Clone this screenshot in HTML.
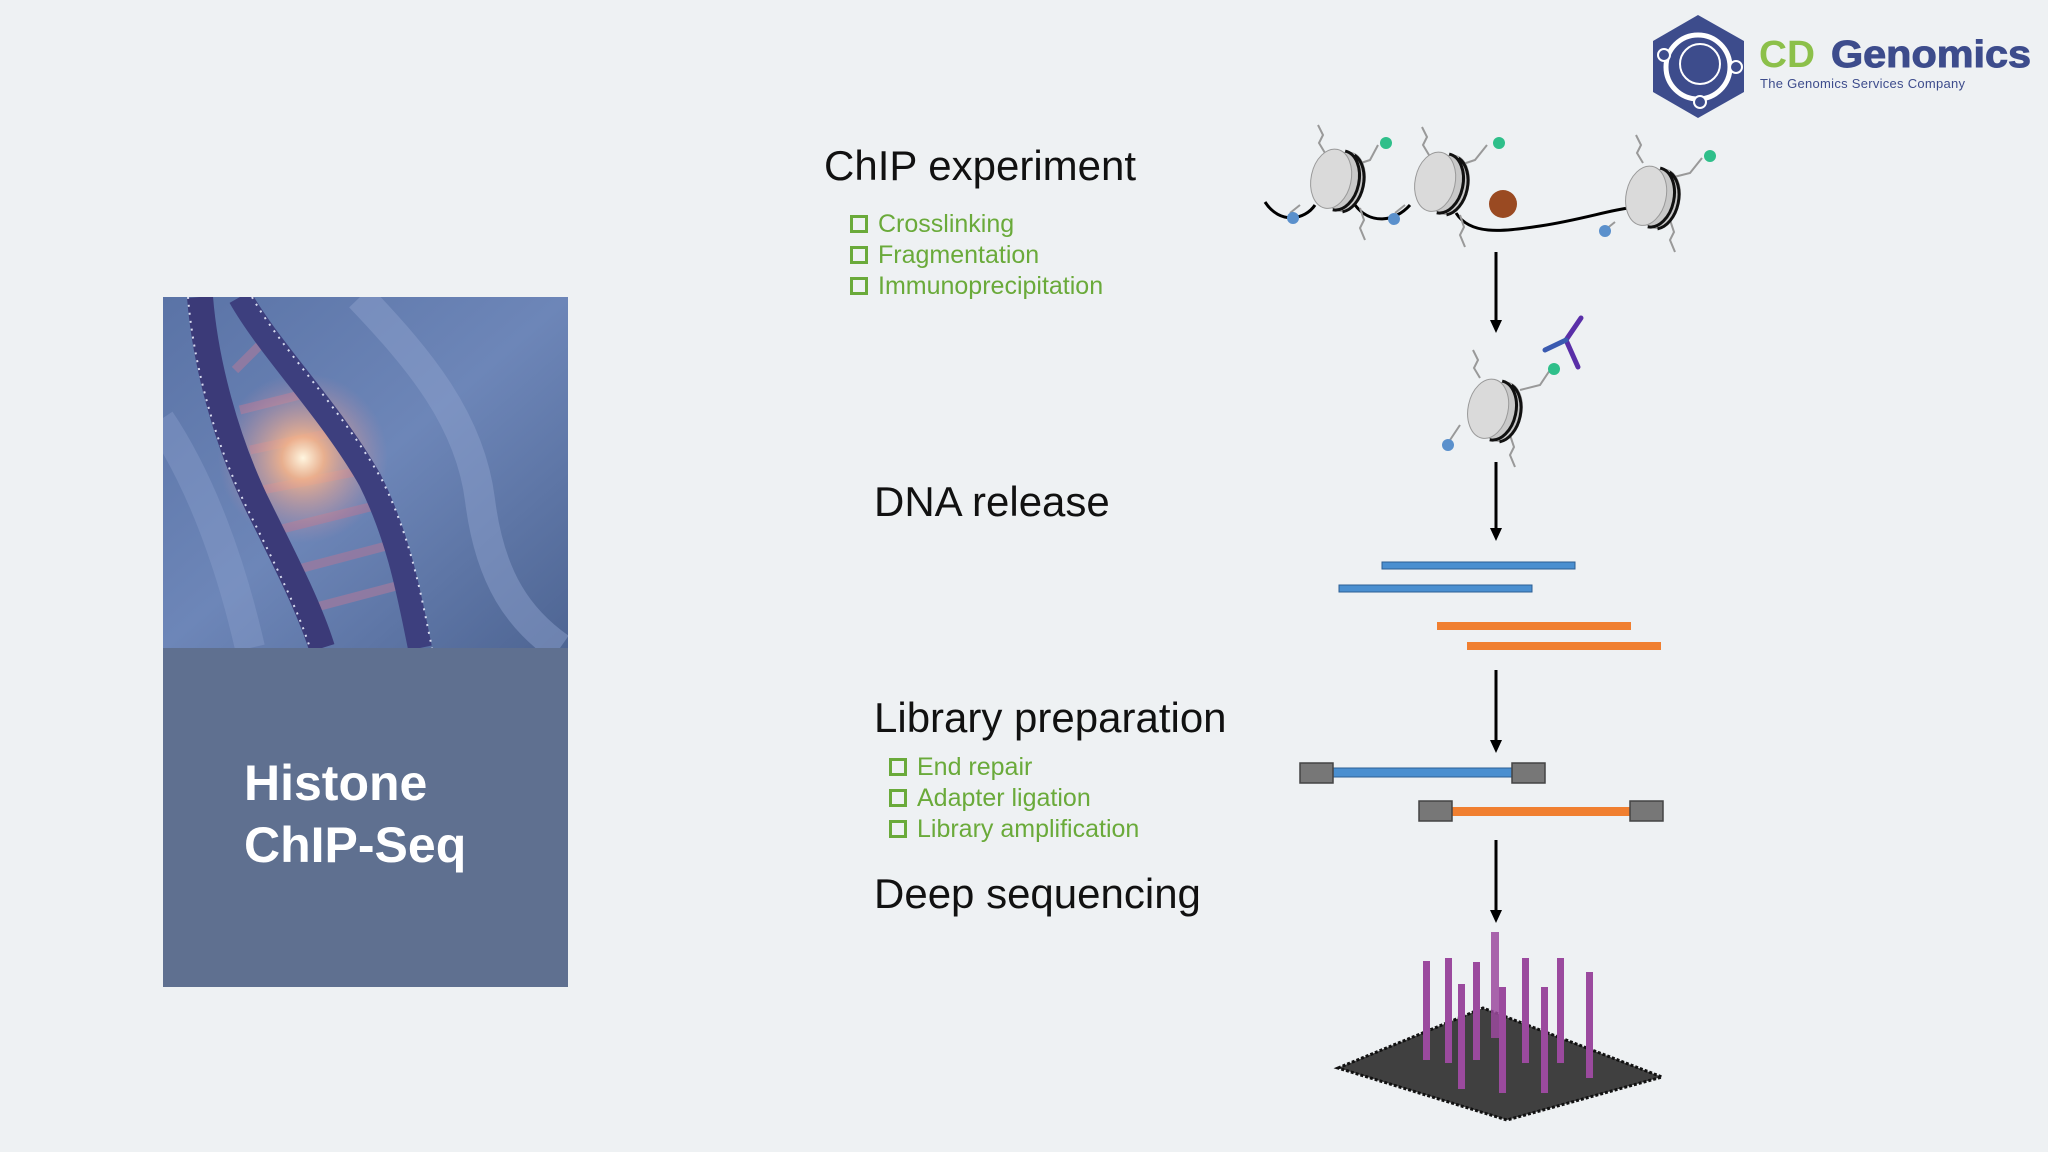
<!DOCTYPE html>
<html><head><meta charset="utf-8"><style>
html,body{margin:0;padding:0}
body{width:2048px;height:1152px;background:#eef1f3;position:relative;overflow:hidden;font-family:"Liberation Sans",Arial,sans-serif}
.t{position:absolute;color:#111;white-space:nowrap}
.g{position:absolute;color:#6aaa3a;font-size:25px;white-space:nowrap}
.g:before{content:"";display:inline-block;width:12px;height:12px;border:3px solid #6aaa3a;margin-right:10px;vertical-align:-1px}
</style></head><body>
<svg width="2048" height="1152" style="position:absolute;left:0;top:0">
<defs>
<linearGradient id="bg" x1="0" y1="0" x2="1" y2="1"><stop offset="0" stop-color="#5a73a6"/><stop offset="0.5" stop-color="#6d86b8"/><stop offset="1" stop-color="#4e6593"/></linearGradient>
<radialGradient id="glow" cx="0.5" cy="0.5" r="0.5"><stop offset="0" stop-color="#fff6e0"/><stop offset="0.25" stop-color="#f6b48a" stop-opacity="0.9"/><stop offset="1" stop-color="#c08aa8" stop-opacity="0"/></radialGradient>
<clipPath id="cp"><rect x="163" y="297" width="405" height="351"/></clipPath>
</defs>
<rect x="163" y="297" width="405" height="690" fill="#5f7090"/>
<g clip-path="url(#cp)">
<rect x="163" y="297" width="405" height="351" fill="url(#bg)"/>
<path d="M360,297 C420,360 470,420 480,500 C490,580 520,620 560,648" stroke="#8ba0cc" stroke-width="30" fill="none" opacity="0.5"/>
<path d="M160,420 C200,480 230,560 250,648" stroke="#8ba0cc" stroke-width="30" fill="none" opacity="0.4"/>
<g stroke="#9a7aa0" stroke-width="9" opacity="0.8">
<line x1="235" y1="370" x2="275" y2="330"/><line x1="240" y1="410" x2="320" y2="390"/><line x1="250" y1="450" x2="345" y2="430"/><line x1="262" y1="490" x2="365" y2="470"/><line x1="278" y1="530" x2="378" y2="505"/><line x1="295" y1="570" x2="390" y2="545"/><line x1="305" y1="610" x2="400" y2="585"/>
</g>
<circle cx="303" cy="458" r="85" fill="url(#glow)"/>
<path d="M200,297 C205,360 225,440 260,510 C290,570 310,610 322,648" stroke="#3b3a78" stroke-width="26" fill="none"/>
<path d="M240,297 C270,350 330,410 370,480 C400,540 410,600 420,648" stroke="#3d3f7e" stroke-width="24" fill="none"/>
<path d="M200,297 C205,360 225,440 260,510 C290,570 310,610 322,648" stroke="#d8dcf0" stroke-width="2" fill="none" stroke-dasharray="2 6" transform="translate(-12,0)"/>
<path d="M240,297 C270,350 330,410 370,480 C400,540 410,600 420,648" stroke="#d8dcf0" stroke-width="2" fill="none" stroke-dasharray="2 6" transform="translate(12,0)"/>
</g>
<!-- logo -->
<polygon points="1698,15 1744,41 1744,92 1698,118 1653,92 1653,41" fill="#3d4c8c"/>
<circle cx="1698" cy="67" r="32" fill="none" stroke="#fff" stroke-width="5"/>
<circle cx="1700" cy="64" r="20" fill="#3d4c8c" stroke="#fff" stroke-width="2"/>
<circle cx="1664" cy="55" r="6" fill="#3d4c8c" stroke="#fff" stroke-width="2"/>
<circle cx="1736" cy="67" r="6" fill="#3d4c8c" stroke="#fff" stroke-width="2"/>
<circle cx="1700" cy="102" r="6" fill="#3d4c8c" stroke="#fff" stroke-width="2"/>
<text x="1759" y="67" font-family="Liberation Sans" font-weight="bold" font-size="38" fill="#8cc04a" textLength="56" lengthAdjust="spacingAndGlyphs">CD</text>
<text x="1831" y="67" font-family="Liberation Sans" font-weight="bold" font-size="38" fill="#3d4c8c" textLength="200" lengthAdjust="spacingAndGlyphs" stroke="#3d4c8c" stroke-width="1">Genomics</text>
<text x="1760" y="88" font-family="Liberation Sans" font-size="13" fill="#3d4c8c" textLength="205">The Genomics Services Company</text>
<!-- nucleosomes -->
<g fill="none" stroke="#000" stroke-width="3">
<path d="M1265,202 C1280,225 1305,220 1315,205"/>
<path d="M1355,205 C1370,225 1395,222 1410,205"/>
<path d="M1456,213 C1470,235 1500,232 1540,226 C1580,220 1610,210 1629,208"/>
</g>
<g stroke="#999" stroke-width="2" fill="none">
<path d="M1318,125 l5,10 -4,8 6,10"/><path d="M1422,127 l5,10 -4,8 6,10"/><path d="M1636,135 l5,10 -4,8 6,10"/><path d="M1473,350 l5,10 -4,8 6,10"/>
<path d="M1360,208 l4,12 -4,8 5,12"/><path d="M1460,215 l4,12 -4,8 5,12"/><path d="M1670,220 l4,12 -4,8 5,12"/><path d="M1510,435 l4,12 -4,8 5,12"/>
<path d="M1355,165 l15,-5 8,-15"/><path d="M1460,165 l15,-5 12,-15"/><path d="M1670,178 l20,-5 12,-15"/><path d="M1520,390 l20,-5 10,-15"/>
<path d="M1300,205 l-10,8"/><path d="M1405,205 l-10,8"/><path d="M1615,222 l-10,8"/><path d="M1460,425 l-10,15"/>
</g>
<g>
<g transform="translate(1337,180) rotate(12)"><ellipse cx="8" cy="0" rx="20" ry="30" fill="#c8c8c8" stroke="#999"/><ellipse cx="-6" cy="0" rx="20" ry="30" fill="#dadada" stroke="#999"/><path d="M2,-30 a20,30 0 0 1 0,60 M12,-28 a20,30 0 0 1 0,58" stroke="#111" stroke-width="3" fill="none"/></g>
<g transform="translate(1441,183) rotate(12)"><ellipse cx="8" cy="0" rx="20" ry="30" fill="#c8c8c8" stroke="#999"/><ellipse cx="-6" cy="0" rx="20" ry="30" fill="#dadada" stroke="#999"/><path d="M2,-30 a20,30 0 0 1 0,60 M12,-28 a20,30 0 0 1 0,58" stroke="#111" stroke-width="3" fill="none"/></g>
<g transform="translate(1652,197) rotate(12)"><ellipse cx="8" cy="0" rx="20" ry="30" fill="#c8c8c8" stroke="#999"/><ellipse cx="-6" cy="0" rx="20" ry="30" fill="#dadada" stroke="#999"/><path d="M2,-30 a20,30 0 0 1 0,60 M12,-28 a20,30 0 0 1 0,58" stroke="#111" stroke-width="3" fill="none"/></g>
<g transform="translate(1494,410) rotate(12)"><ellipse cx="8" cy="0" rx="20" ry="30" fill="#c8c8c8" stroke="#999"/><ellipse cx="-6" cy="0" rx="20" ry="30" fill="#dadada" stroke="#999"/><path d="M2,-30 a20,30 0 0 1 0,60 M12,-28 a20,30 0 0 1 0,58" stroke="#111" stroke-width="3" fill="none"/></g>
</g>
<circle cx="1503" cy="204" r="14" fill="#9a4a22"/>
<g fill="#2fbf8a"><circle cx="1386" cy="143" r="6"/><circle cx="1499" cy="143" r="6"/><circle cx="1710" cy="156" r="6"/><circle cx="1554" cy="369" r="6"/></g>
<g fill="#5a90cc"><circle cx="1293" cy="218" r="6"/><circle cx="1394" cy="219" r="6"/><circle cx="1605" cy="231" r="6"/><circle cx="1448" cy="445" r="6"/></g>
<g stroke-width="5" stroke-linecap="round" fill="none">
<path d="M1581,318 L1566,340 L1578,367" stroke="#5a2fa8"/>
<path d="M1566,340 L1545,350" stroke="#3a5ab0"/>
</g>
<!-- arrows -->
<g stroke="#000" stroke-width="3">
<line x1="1496" y1="252" x2="1496" y2="322"/>
<line x1="1496" y1="462" x2="1496" y2="530"/>
<line x1="1496" y1="670" x2="1496" y2="742"/>
<line x1="1496" y1="840" x2="1496" y2="912"/>
</g>
<g fill="#000">
<polygon points="1490,320 1502,320 1496,333"/>
<polygon points="1490,528 1502,528 1496,541"/>
<polygon points="1490,740 1502,740 1496,753"/>
<polygon points="1490,910 1502,910 1496,923"/>
</g>
<!-- fragments -->
<g stroke="#2c5f94" stroke-width="1"><rect x="1382" y="562" width="193" height="7" fill="#4a8fd0"/><rect x="1339" y="585" width="193" height="7" fill="#4a8fd0"/></g>
<rect x="1437" y="622" width="194" height="8" fill="#f07f30"/><rect x="1467" y="642" width="194" height="8" fill="#f07f30"/>
<!-- library -->
<rect x="1333" y="768" width="180" height="9" fill="#4a8fd0" stroke="#2c5f94"/>
<rect x="1452" y="807" width="178" height="9" fill="#f07f30"/>
<g fill="#777" stroke="#444" stroke-width="1.5"><rect x="1300" y="763" width="33" height="20"/><rect x="1512" y="763" width="33" height="20"/><rect x="1419" y="801" width="33" height="20"/><rect x="1630" y="801" width="33" height="20"/></g>
<!-- plate -->
<polygon points="1338,1068 1483,1008 1662,1077 1507,1120" fill="#404040" stroke="#111" stroke-width="3" stroke-dasharray="3 2"/>
<g fill="#9b4a9e">
<rect x="1423" y="961" width="7" height="99"/><rect x="1445" y="958" width="7" height="105"/><rect x="1458" y="984" width="7" height="105"/><rect x="1473" y="962" width="7" height="98"/><rect x="1491" y="932" width="8" height="106" opacity="0.85"/><rect x="1499" y="987" width="7" height="106"/><rect x="1522" y="958" width="7" height="105"/><rect x="1541" y="987" width="7" height="106"/><rect x="1557" y="958" width="7" height="105"/><rect x="1586" y="972" width="7" height="106"/>
</g>
</svg>
<div class="t" style="left:244px;top:752px;font-size:50px;font-weight:bold;color:#fff;line-height:62px">Histone<br>ChIP-Seq</div>
<div class="t" style="left:824px;top:142px;font-size:42px">ChIP experiment</div>
<div class="g" style="left:850px;top:210px">Crosslinking</div>
<div class="g" style="left:850px;top:241px">Fragmentation</div>
<div class="g" style="left:850px;top:272px">Immunoprecipitation</div>
<div class="t" style="left:874px;top:478px;font-size:42px">DNA release</div>
<div class="t" style="left:874px;top:694px;font-size:42px">Library preparation</div>
<div class="g" style="left:889px;top:753px">End repair</div>
<div class="g" style="left:889px;top:784px">Adapter ligation</div>
<div class="g" style="left:889px;top:815px">Library amplification</div>
<div class="t" style="left:874px;top:870px;font-size:42px">Deep sequencing</div>
</body></html>
